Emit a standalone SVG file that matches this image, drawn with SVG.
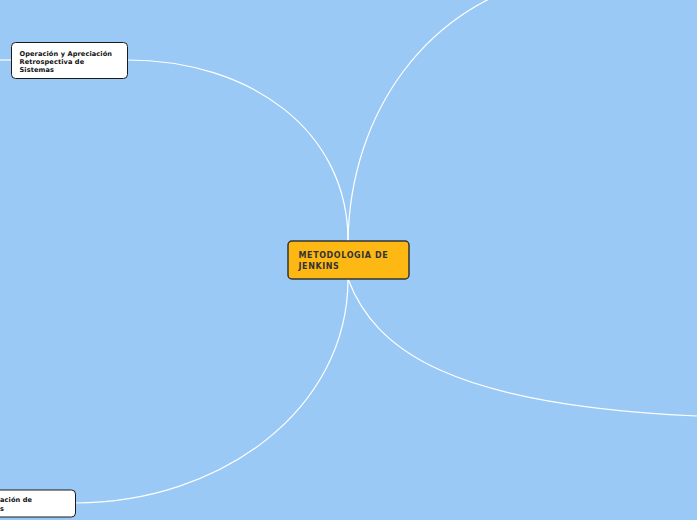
<svg xmlns="http://www.w3.org/2000/svg" width="697" height="520" viewBox="0 0 697 520">
<style>
.bg{fill:#9bc9f5}
.conn path{fill:none;stroke:#ffffff;stroke-width:1.2}
.sub rect{fill:#ffffff;stroke:#1a1a1a;stroke-width:1}
.sub text{font-family:"DejaVu Sans",Verdana,sans-serif;font-stretch:normal;font-weight:bold;font-size:6.6px;letter-spacing:0.1px;fill:#111111}
.main rect{fill:#fdb813;stroke:#333333;stroke-width:1.5}
.main text{font-family:"DejaVu Sans",Verdana,sans-serif;font-stretch:normal;font-weight:bold;font-size:8px;letter-spacing:0.6px;fill:#333333}
</style>
<rect class="bg" x="0" y="0" width="697" height="520"/>
<g id="connectors" class="conn">
<path d="M0,60 L11,60"/>
<path d="M127,60 C250,60 348,130 348,241"/>
<path d="M75,503 C220,503 348,410 348,279"/>
<path d="M348,241 C350,112 428,3 550,-22"/>
<path d="M348,279 C375,350 450,405 697,416"/>
</g>
<g id="node-operacion" class="sub">
<rect x="11.5" y="42.5" width="116" height="36" rx="4"/>
<text x="19.5" y="56">Operación y Apreciación</text>
<text x="19.5" y="64">Retrospectiva de</text>
<text x="19.5" y="72">Sistemas</text>
</g>
<g id="node-bottom" class="sub">
<rect x="-40" y="490" width="115.5" height="27" rx="4"/>
<text x="0" y="502">ación de</text>
<text x="0" y="510.5">s</text>
</g>
<g id="node-center" class="main">
<rect x="288" y="241" width="121" height="38" rx="4"/>
<text x="298.5" y="258">METODOLOGIA DE</text>
<text x="298.5" y="269">JENKINS</text>
</g>
</svg>
